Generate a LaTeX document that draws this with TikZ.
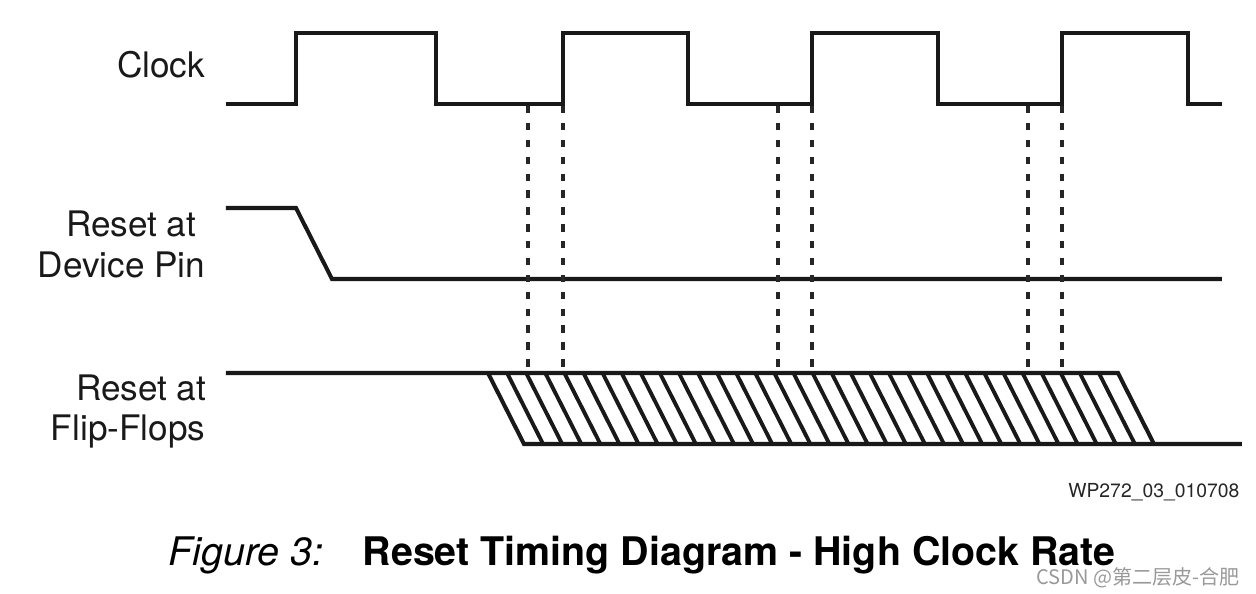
\documentclass[tikz,border=0pt]{standalone}
\usepackage{fontspec}
\setmainfont{TeX Gyre Heros}
\newfontfamily\cjkfont{Noto Sans CJK SC}
\tikzset{
  wave/.style={draw=black!90, line width=1.15pt, line join=miter},      % signal trace
  hatch/.style={draw=black!90, line width=1.1pt},                        % uncertain region
  guide/.style={draw=black!85, line width=1.05pt, dash pattern=on 2.1pt off 2.7pt},
  sig/.style={font=\fontsize{10}{12}\selectfont, text=black!90, anchor=base east, inner sep=0pt},
  captxt/.style={font=\fontsize{11.2}{13}\selectfont, anchor=base west, inner sep=0pt},
  tag/.style={font=\fontsize{5.5}{6.5}\selectfont, text=black!85, anchor=base east, inner sep=0pt},
}
\begin{document}
\begin{tikzpicture}[x=0.01cm, y=-0.01cm]
  \useasboundingbox (0,0) rectangle (1256,593);
  % ---------------- signal names ----------------
  \node[sig] (clk)   at (206,77)  {Clock};
  \node[sig] (pin1)  at (197,236) {Reset at};
  \node[sig] (pin2)  at (206,277) {Device Pin};
  \node[sig] (ff1)   at (207,400) {Reset at};
  \node[sig] (ff2)   at (206,440) {Flip-Flops};
  % ---------------- clock ----------------
  \draw[wave] (226,104) -| (296,33) -| (436,104) -| (563,33) -| (688,104)
              -| (812,33) -| (938,104) -| (1062,33) -| (1188,104) -- (1222,104);
  % ---------------- reset at the pin ----------------
  \draw[wave] (226,208) -- (296,208) -- (332,279) -- (1222,279);
  % ---------------- reset at the flip-flops ----------------
  \draw[wave] (226,373) -- (1118,373) -- (1154,444);
  \draw[wave] (488,373) -- (524,444) -- (1242,444);
  \foreach \i in {1,...,32}
    \draw[hatch] ({488+\i*19.09},373) -- ++(36,71);
  % ---------------- clock edge guides ----------------
  \foreach \n/\x in {1/528,2/563,3/778,4/812,5/1028,6/1062} {
    \coordinate (ck\n) at (\x,106);
    \coordinate (rs\n) at (\x,373);
    \draw[guide] (ck\n) -- (rs\n);
  }
  % ---------------- caption ----------------
  \node[tag] (fig) at (1240,497) {WP272\_03\_010708};
  \node[captxt] (capnum)  at (168,565) {\itshape Figure 3:};
  \node[captxt] (captext) at (362,565) {\bfseries Reset Timing Diagram - High Clock Rate};
  \node[tag, font=\cjkfont\fontsize{5.7}{7}\selectfont, text=black!40] (mark) at (1240,584)
       {CSDN @第二层皮-合肥};
\end{tikzpicture}
\end{document}
